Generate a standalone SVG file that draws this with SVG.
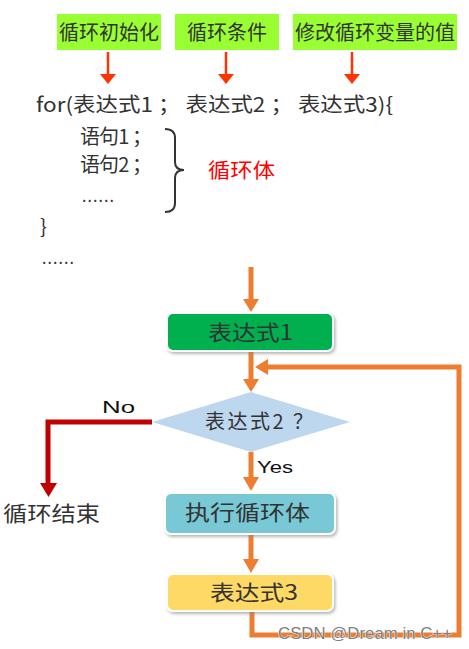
<svg xmlns="http://www.w3.org/2000/svg" width="469" height="649" viewBox="0 0 469 649">
<defs>
<style>
.t{font-family:"Noto Sans CJK SC","Liberation Sans",sans-serif;fill:#333;}
.lab{fill:#99FF33;}
.or{stroke:#ED7D31;stroke-width:5;fill:none;}
.ar{fill:#ED7D31;}
.rd{stroke:#FF3300;stroke-width:2.5;fill:none;}
.rh{fill:#FF3300;}
.box{stroke:#fff;stroke-width:2;}
</style>
<filter id="sh" x="-10%" y="-20%" width="130%" height="150%">
<feDropShadow dx="1.5" dy="2" stdDeviation="1.5" flood-color="#888" flood-opacity="0.6"/>
</filter>
</defs>
<rect width="469" height="649" fill="#fff"/>

<g id="label1"><rect class="lab" x="57" y="14" width="104" height="36"/><text class="t" x="109" y="40" font-size="20" text-anchor="middle">循环初始化</text></g>
<g id="label2"><rect class="lab" x="175" y="14" width="104" height="36"/><text class="t" x="227" y="40" font-size="20" text-anchor="middle">循环条件</text></g>
<g id="label3"><rect class="lab" x="293" y="14" width="164" height="36"/><text class="t" x="375" y="40" font-size="20" text-anchor="middle">修改循环变量的值</text></g>

<g id="code">
<text class="t" x="36" y="112" font-size="20" textLength="357" lengthAdjust="spacingAndGlyphs">for(表达式1 ； 表达式2 ； 表达式3){</text>
<text class="t" x="80" y="144" font-size="20" textLength="72" lengthAdjust="spacing">语句1 ；</text>
<text class="t" x="80" y="172" font-size="20" textLength="72" lengthAdjust="spacing">语句2 ；</text>
<text class="t" x="82" y="202" font-size="16" textLength="32" lengthAdjust="spacing">......</text>
<text class="t" x="40" y="234" font-size="20">}</text>
<text class="t" x="42" y="264" font-size="16" textLength="32" lengthAdjust="spacing">......</text>
<path d="M165,129 Q175,129 175,138 L175,162 Q175,170 184,170 Q175,170 175,178 L175,203 Q175,212 165,212" fill="none" stroke="#333" stroke-width="2"/>
<text x="208" y="178" font-size="20" fill="#FF0000" font-family="&quot;Noto Sans CJK SC&quot;,sans-serif" textLength="67" lengthAdjust="spacingAndGlyphs">循环体</text>
</g>

<g id="connectors">
<line class="rd" x1="108" y1="52" x2="108" y2="74"/><polygon class="rh" points="100,74 116,74 108,84"/>
<line class="rd" x1="226" y1="52" x2="226" y2="74"/><polygon class="rh" points="218,74 234,74 226,84"/>
<line class="rd" x1="352" y1="52" x2="352" y2="74"/><polygon class="rh" points="344,74 360,74 352,84"/>

<line class="or" x1="251" y1="267" x2="251" y2="300"/><polygon class="ar" points="243,299 259,299 251,312"/>
<line class="or" x1="251" y1="352" x2="251" y2="380"/><polygon class="ar" points="243,379 259,379 251,392"/>
<line class="or" x1="251" y1="452" x2="251" y2="478"/><polygon class="ar" points="243,477 259,477 251,491"/>
<line class="or" x1="251" y1="534" x2="251" y2="560"/><polygon class="ar" points="243,559 259,559 251,573"/>
<polyline class="or" points="252,611 252,635 459,635 459,367 267,367"/><polygon class="ar" points="268,359 268,375 255,367"/>

<polyline points="152,422 48,422 48,484" fill="none" stroke="#C00000" stroke-width="5"/>
<polygon points="40,483 57,483 48.5,497" fill="#C00000"/>
</g>

<g id="expr1"><rect class="box" x="167" y="313" width="166" height="38" rx="6" fill="#00B050" filter="url(#sh)"/><text class="t" x="208" y="340" font-size="21" fill="#222" textLength="85" lengthAdjust="spacingAndGlyphs">表达式1</text></g>
<g id="cond"><polygon points="251,392 350,422 251,452 152,422" fill="#BDD7EE"/><text class="t" x="205" y="429" font-size="20" textLength="108" lengthAdjust="spacing">表达式2 ？</text></g>
<g id="body"><rect class="box" x="165" y="493" width="170" height="41" rx="6" fill="#78C9D5" filter="url(#sh)"/><text class="t" x="185" y="520" font-size="21" fill="#222" textLength="125" lengthAdjust="spacingAndGlyphs">执行循环体</text></g>
<g id="expr3"><rect class="box" x="167" y="574" width="166" height="37" rx="6" fill="#FFD966" filter="url(#sh)"/><text class="t" x="210" y="600" font-size="21" fill="#222" textLength="88" lengthAdjust="spacingAndGlyphs">表达式3</text></g>
<g id="end"><text class="t" x="3" y="521" font-size="21" textLength="97" lengthAdjust="spacingAndGlyphs">循环结束</text></g>

<g id="labels">
<text x="102" y="413" font-size="17" fill="#111" font-family="&quot;Liberation Sans&quot;,sans-serif" textLength="33" lengthAdjust="spacingAndGlyphs">No</text>
<text x="257" y="473" font-size="17" fill="#111" font-family="&quot;Liberation Sans&quot;,sans-serif" textLength="36" lengthAdjust="spacingAndGlyphs">Yes</text>
</g>

<text x="278" y="639" font-size="16" fill="#808080" stroke="#fff" stroke-width="0.8" paint-order="stroke" font-family="&quot;Liberation Sans&quot;,sans-serif" textLength="174" lengthAdjust="spacingAndGlyphs">CSDN @Dream in C++</text>
</svg>
